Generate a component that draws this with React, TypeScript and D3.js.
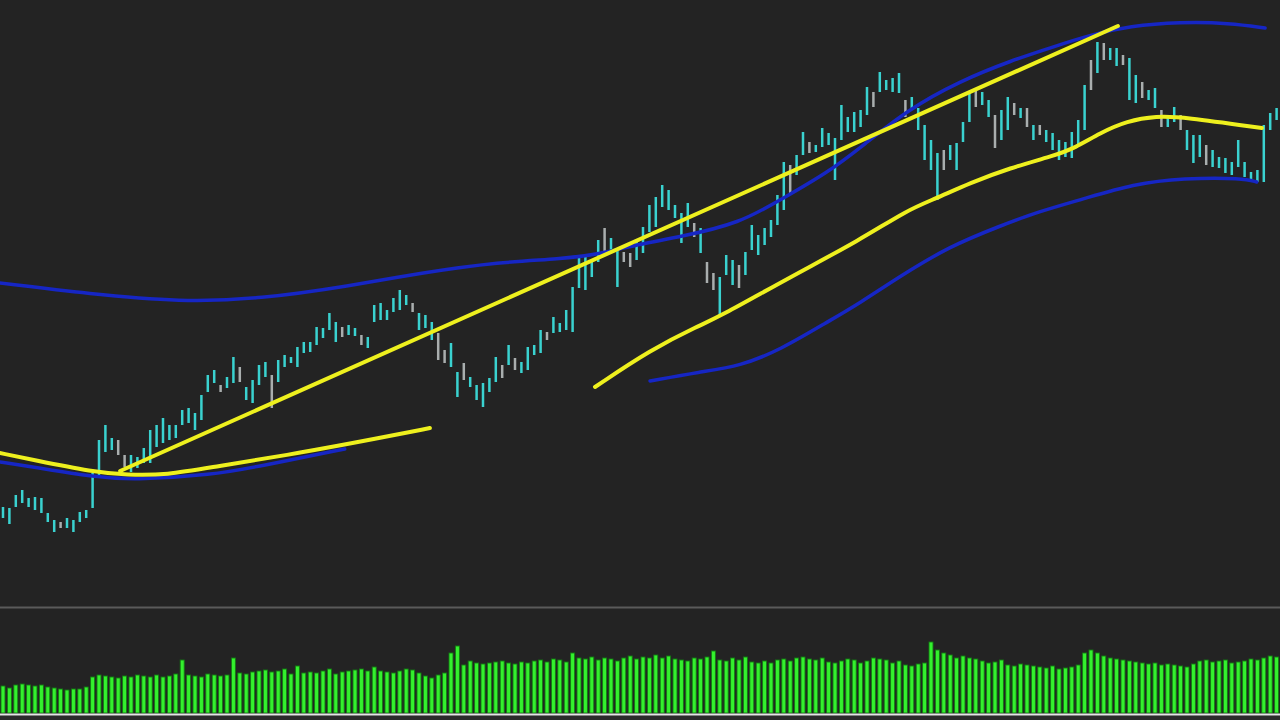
import React from "react";
import * as d3 from "d3";

// Price bars (high / low) per session
const highs = [
  22.6, 22.4, 25.0, 26.0, 24.4, 24.6, 24.4, 21.4, 20.0, 19.6,
  20.4, 20.0, 21.6, 22.0, 29.4, 36.0, 39.0, 36.4, 36.0, 33.0,
  33.0, 32.6, 34.4, 38.0, 39.0, 40.4, 39.0, 39.0, 42.0, 42.4,
  41.4, 45.0, 49.0, 50.0, 47.0, 48.6, 52.6, 50.6, 46.6, 48.0,
  51.0, 51.6, 49.0, 52.0, 53.0, 52.6, 54.6, 55.6, 55.6, 58.6,
  58.4, 61.4, 59.6, 58.6, 59.0, 58.4, 57.0, 56.6, 63.0, 63.4,
  62.0, 64.4, 66.0, 65.0, 63.4, 61.4, 61.0, 59.6, 57.4, 54.0,
  55.4, 49.6, 51.4, 48.6, 47.0, 47.4, 48.4, 52.6, 51.0, 55.0,
  52.4, 51.6, 54.6, 55.0, 58.0, 57.6, 60.6, 59.4, 62.0, 66.6,
  72.6, 73.0, 72.0, 76.0, 78.4, 76.4, 74.0, 73.6, 73.4, 76.0,
  78.6, 83.0, 84.6, 87.0, 86.0, 83.0, 81.4, 83.4, 79.4, 78.4,
  71.6, 69.4, 68.6, 73.0, 72.0, 71.0, 73.6, 79.0, 77.0, 78.4,
  80.0, 85.0, 91.6, 91.0, 93.0, 97.6, 95.6, 95.0, 98.4, 97.4,
  96.4, 103.0, 100.6, 101.6, 102.0, 106.6, 105.6, 109.6, 108.0, 108.4,
  109.4, 104.0, 104.6, 102.4, 99.0, 96.0, 93.4, 94.0, 95.0, 95.4,
  99.6, 105.6, 106.4, 105.6, 104.0, 101.0, 102.0, 104.6, 103.4, 102.4,
  102.4, 99.0, 99.0, 98.0, 97.4, 96.0, 95.6, 97.6, 100.0, 107.0,
  112.0, 115.6, 115.4, 114.4, 114.4, 113.0, 112.4, 109.0, 107.6, 106.0,
  106.4, 102.0, 101.0, 102.6, 101.0, 98.0, 97.0, 97.0, 95.0, 94.0,
  92.6, 92.4, 91.6, 96.0, 91.6, 89.6, 90.0, 99.0, 101.4, 102.4,
];
const lows = [
  20.4, 19.2, 22.6, 23.4, 22.6, 22.0, 21.4, 19.6, 17.6, 18.4,
  18.4, 17.6, 19.6, 20.4, 22.4, 28.6, 33.6, 34.0, 33.0, 30.6,
  29.6, 30.4, 31.4, 31.4, 34.6, 35.4, 36.0, 36.4, 39.0, 39.4,
  38.0, 40.0, 45.6, 47.4, 45.6, 46.4, 47.4, 47.6, 44.0, 43.4,
  47.0, 48.6, 42.4, 47.6, 50.6, 51.4, 50.6, 53.4, 53.6, 55.0,
  56.4, 58.0, 55.6, 56.6, 57.0, 56.8, 55.0, 54.4, 59.6, 60.0,
  60.0, 61.6, 62.0, 63.0, 61.6, 58.0, 58.4, 56.0, 52.0, 51.4,
  50.6, 44.6, 48.0, 46.6, 44.0, 42.6, 45.6, 47.6, 48.4, 51.0,
  50.0, 49.4, 50.0, 53.0, 53.4, 56.0, 57.4, 57.6, 58.0, 57.6,
  66.4, 66.0, 68.6, 71.6, 73.6, 73.4, 66.6, 71.6, 70.6, 72.0,
  73.4, 77.6, 78.6, 82.6, 82.0, 80.4, 75.4, 78.6, 76.6, 73.4,
  67.4, 66.0, 60.6, 69.0, 67.0, 66.4, 69.0, 74.0, 73.0, 75.0,
  76.6, 79.0, 82.0, 85.0, 89.0, 93.0, 93.4, 93.6, 94.6, 95.0,
  88.0, 96.0, 97.6, 97.6, 98.6, 101.0, 102.6, 105.6, 106.0, 105.6,
  105.4, 100.6, 102.0, 98.0, 92.0, 90.0, 84.0, 90.0, 92.0, 90.0,
  95.6, 99.6, 102.6, 103.0, 100.6, 94.4, 96.0, 98.0, 101.0, 100.4,
  98.6, 96.0, 97.0, 95.6, 94.0, 92.0, 92.6, 92.4, 95.0, 98.0,
  106.0, 109.4, 112.0, 112.0, 110.8, 111.0, 104.0, 103.4, 104.4, 104.0,
  102.4, 98.6, 98.6, 99.6, 98.0, 94.0, 91.4, 92.6, 91.0, 90.6,
  90.4, 89.4, 89.0, 90.6, 88.6, 87.6, 87.6, 87.6, 98.0, 100.0,
];
// sessions that closed lower (drawn grey)
const downBars = [
  9, 18, 19, 34, 37, 42, 53, 56, 64, 68, 69, 72, 78, 80, 85, 94, 97, 98,
  108, 110, 111, 115, 123, 126, 136, 141, 147, 152, 155, 158, 160, 162,
  170, 172, 175, 178, 181, 184, 188,
];
const volumes = [
  27, 25, 28, 29, 28, 27, 28, 26, 25, 24, 23, 24, 24, 26, 36, 38, 37, 36, 35, 37,
  36, 38, 37, 36, 38, 36, 37, 39, 53, 38, 37, 36, 39, 38, 37, 38, 55, 40, 39, 41,
  42, 43, 41, 42, 44, 39, 47, 40, 41, 40, 42, 44, 39, 41, 42, 43, 44, 42, 46, 42,
  41, 40, 42, 44, 43, 40, 37, 35, 38, 40, 60, 67, 48, 52, 50, 49, 50, 51, 52, 50,
  49, 51, 50, 52, 53, 51, 54, 53, 51, 60, 55, 54, 56, 53, 55, 54, 52, 55, 57, 54,
  56, 55, 58, 55, 57, 54, 53, 52, 55, 54, 56, 62, 53, 52, 55, 53, 56, 51, 50, 52,
  50, 53, 54, 52, 55, 56, 54, 53, 55, 51, 50, 52, 54, 53, 50, 52, 55, 54, 53, 50,
  52, 48, 47, 49, 50, 71, 63, 60, 58, 55, 57, 55, 54, 52, 50, 51, 53, 48, 47, 49,
  48, 47, 46, 45, 47, 44, 45, 46, 48, 60, 63, 60, 57, 55, 54, 53, 52, 51, 50, 49,
  50, 48, 49, 48, 47, 46, 49, 52, 53, 51, 52, 53, 50, 51, 52, 54, 53, 55, 57, 56,
];

// Moving-band curves: [bar index, price]
const blueUpper: [number, number][] = [
  [-0.5, 67.4], [-0.5, 67.4], [13.6, 65.2], [27.7, 63.6], [40.2, 64.2], [54.2, 66.8], [65.2, 69.4],
  [77.7, 71.6], [87.0, 72.2], [93.3, 73.2], [99.5, 75.2], [105.8, 76.6], [115.2, 79.4],
  [121.4, 84.0], [128.8, 89.4], [134.5, 95.0], [141.3, 102.0], [149.5, 107.8],
  [157.8, 112.0], [163.6, 114.4], [169.8, 117.0], [176.1, 118.8], [183.9, 119.6],
  [191.7, 119.4], [197.2, 118.4], [197.2, 118.4],
];
const blueLowerLeft: [number, number][] = [
  [-0.5, 31.6], [-0.5, 31.6], [4.7, 30.6], [14.1, 28.6], [20.3, 28.0], [32.8, 29.0], [40.2, 30.8],
  [53.4, 34.2], [53.4, 34.2],
];
const blueLowerRight: [number, number][] = [
  [101.1, 47.8], [101.1, 47.8], [108.9, 49.6], [115.2, 50.8], [121.4, 54.0], [128.8, 59.6],
  [133.9, 63.4], [140.2, 68.8], [148.0, 74.8], [155.8, 78.8], [161.6, 81.6], [168.8, 84.2],
  [176.6, 87.2], [184.4, 88.4], [193.8, 88.4], [195.9, 87.6], [195.9, 87.6],
];
// Hand-drawn yellow lines
const yellowLower: [number, number][] = [
  [-0.5, 33.4], [-0.5, 33.4], [4.7, 32.0], [14.1, 29.6], [19.4, 29.0], [25.6, 29.0], [32.8, 30.6],
  [46.4, 33.4], [58.9, 36.4], [66.7, 38.4], [66.7, 38.4],
];
const yellowTrend: [number, number][] = [
  [18.3, 29.8], [174.2, 118.8],
];
const yellowChannel: [number, number][] = [
  [92.5, 46.6], [92.5, 46.6], [101.1, 54.0], [108.9, 59.0], [111.6, 60.4], [123.0, 68.6],
  [133.9, 76.0], [141.3, 82.0], [145.6, 84.2], [151.1, 87.4], [157.3, 90.4], [164.1, 92.8],
  [167.5, 94.4], [171.4, 97.4], [175.6, 99.8], [180.3, 100.8], [184.4, 100.6], [196.7, 98.4],
  [196.7, 98.4],
];

const W = 1280;
const H = 720;

export default function App() {
  const x = d3.scaleLinear().domain([0, 199]).range([3, 1276.6]);
  const y = d3.scaleLinear().domain([0, 120]).range([620, 20]);
  const yv = d3.scaleLinear().domain([0, 100]).range([713, 613]);
  const downSet = new Set(downBars);

  const smooth = d3
    .line<[number, number]>()
    .x((d) => x(d[0]))
    .y((d) => y(d[1]))
    .curve(d3.curveBasis);
  const straight = d3
    .line<[number, number]>()
    .x((d) => x(d[0]))
    .y((d) => y(d[1]));

  const blue = "#1626c4";
  const yellow = "#eef01e";

  return (
    <svg
      width={W}
      height={H}
      style={{ position: "fixed", left: 0, top: 0, background: "#232323" }}
    >
      <rect x={0} y={0} width={W} height={H} fill="#232323" />

      {/* price bars */}
      {highs.map((h, i) => (
        <line
          key={"b" + i}
          x1={x(i)}
          x2={x(i)}
          y1={y(h)}
          y2={y(lows[i])}
          stroke={downSet.has(i) ? "#a9aeae" : "#3ad2d0"}
          strokeWidth={2.5}
        />
      ))}

      {/* blue bands */}
      <path d={smooth(blueLowerLeft) || ""} fill="none" stroke={blue} strokeWidth={3.5} strokeLinecap="round" />
      <path d={smooth(blueUpper) || ""} fill="none" stroke={blue} strokeWidth={3.5} strokeLinecap="round" />
      <path d={smooth(blueLowerRight) || ""} fill="none" stroke={blue} strokeWidth={3.5} strokeLinecap="round" />

      {/* yellow drawn lines */}
      <path d={smooth(yellowLower) || ""} fill="none" stroke={yellow} strokeWidth={4} strokeLinecap="round" />
      <path d={straight(yellowTrend) || ""} fill="none" stroke={yellow} strokeWidth={4} strokeLinecap="round" />
      <path d={smooth(yellowChannel) || ""} fill="none" stroke={yellow} strokeWidth={4} strokeLinecap="round" />

      {/* panel separator */}
      <line x1={0} x2={W} y1={607.5} y2={607.5} stroke="#5a5a5a" strokeWidth={2} />

      {/* volume */}
      {volumes.map((v, i) => (
        <rect
          key={"v" + i}
          x={x(i) - 2}
          y={yv(v)}
          width={4}
          height={yv(0) - yv(v)}
          fill="#34f02e"
          stroke="#137a12"
          strokeWidth={0.9}
        />
      ))}
      <line x1={0} x2={W} y1={714.5} y2={714.5} stroke="#e6e6e6" strokeWidth={2} />
      <rect x={0} y={716} width={W} height={4} fill="#2b2b2b" />
    </svg>
  );
}
